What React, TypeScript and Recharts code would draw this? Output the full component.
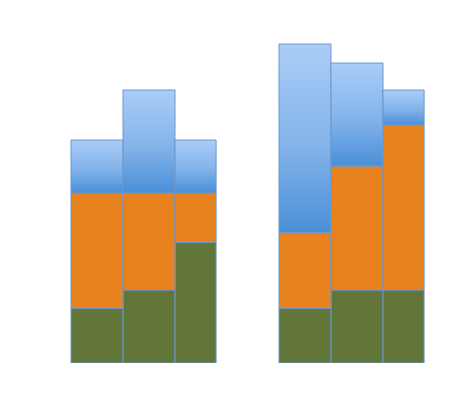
import { Bar, BarChart, Rectangle, XAxis, YAxis } from "recharts";

// seven slots: three bars, an empty slot, three bars
const categories = ["A1", "A2", "A3", "", "B1", "B2", "B3"];
const greenValues = [5.45, 7.3, 12.05, null, 5.45, 7.3, 7.3];
const orangeValues = [11.55, 9.7, 4.95, null, 7.6, 12.4, 16.5];
const blueValues = [5.3, 10.3, 5.3, null, 18.85, 10.3, 3.5];

const data = categories.map((name, i) => ({
    name,
    green: greenValues[i],
    orange: orangeValues[i],
    blue: blueValues[i],
}));

const STROKE = "#6f96c8";
const NARROW = 0.79; // last bar of each group is drawn narrower

function NarrowableBar(props: any) {
    const { index, width } = props;
    const w = index % 4 === 2 ? width * NARROW : width;
    return <Rectangle {...props} width={w} />;
}

export default function App() {
    return (
        <div style={{ position: "absolute", left: 0, top: 0, width: 474, height: 412, background: "#fff" }}>
            <BarChart
                width={474}
                height={412}
                data={data}
                barCategoryGap={0}
                margin={{ top: 0, right: 39, left: 71, bottom: 49 }}
            >
                <defs>
                    <linearGradient id="blueFill" x1="0" y1="0" x2="0" y2="1">
                        <stop offset="0%" stopColor="#aacdf7" />
                        <stop offset="55%" stopColor="#83b3ea" />
                        <stop offset="100%" stopColor="#4a8fd8" />
                    </linearGradient>
                </defs>
                <XAxis dataKey="name" hide />
                <YAxis hide domain={[0, 36.3]} allowDataOverflow />
                <Bar dataKey="green" stackId="s" fill="#63763a" stroke={STROKE} strokeWidth={1}
                    shape={NarrowableBar} isAnimationActive={false} />
                <Bar dataKey="orange" stackId="s" fill="#e8821f" stroke={STROKE} strokeWidth={1}
                    shape={NarrowableBar} isAnimationActive={false} />
                <Bar dataKey="blue" stackId="s" fill="url(#blueFill)" stroke={STROKE} strokeWidth={1}
                    shape={NarrowableBar} isAnimationActive={false} />
            </BarChart>
        </div>
    );
}
